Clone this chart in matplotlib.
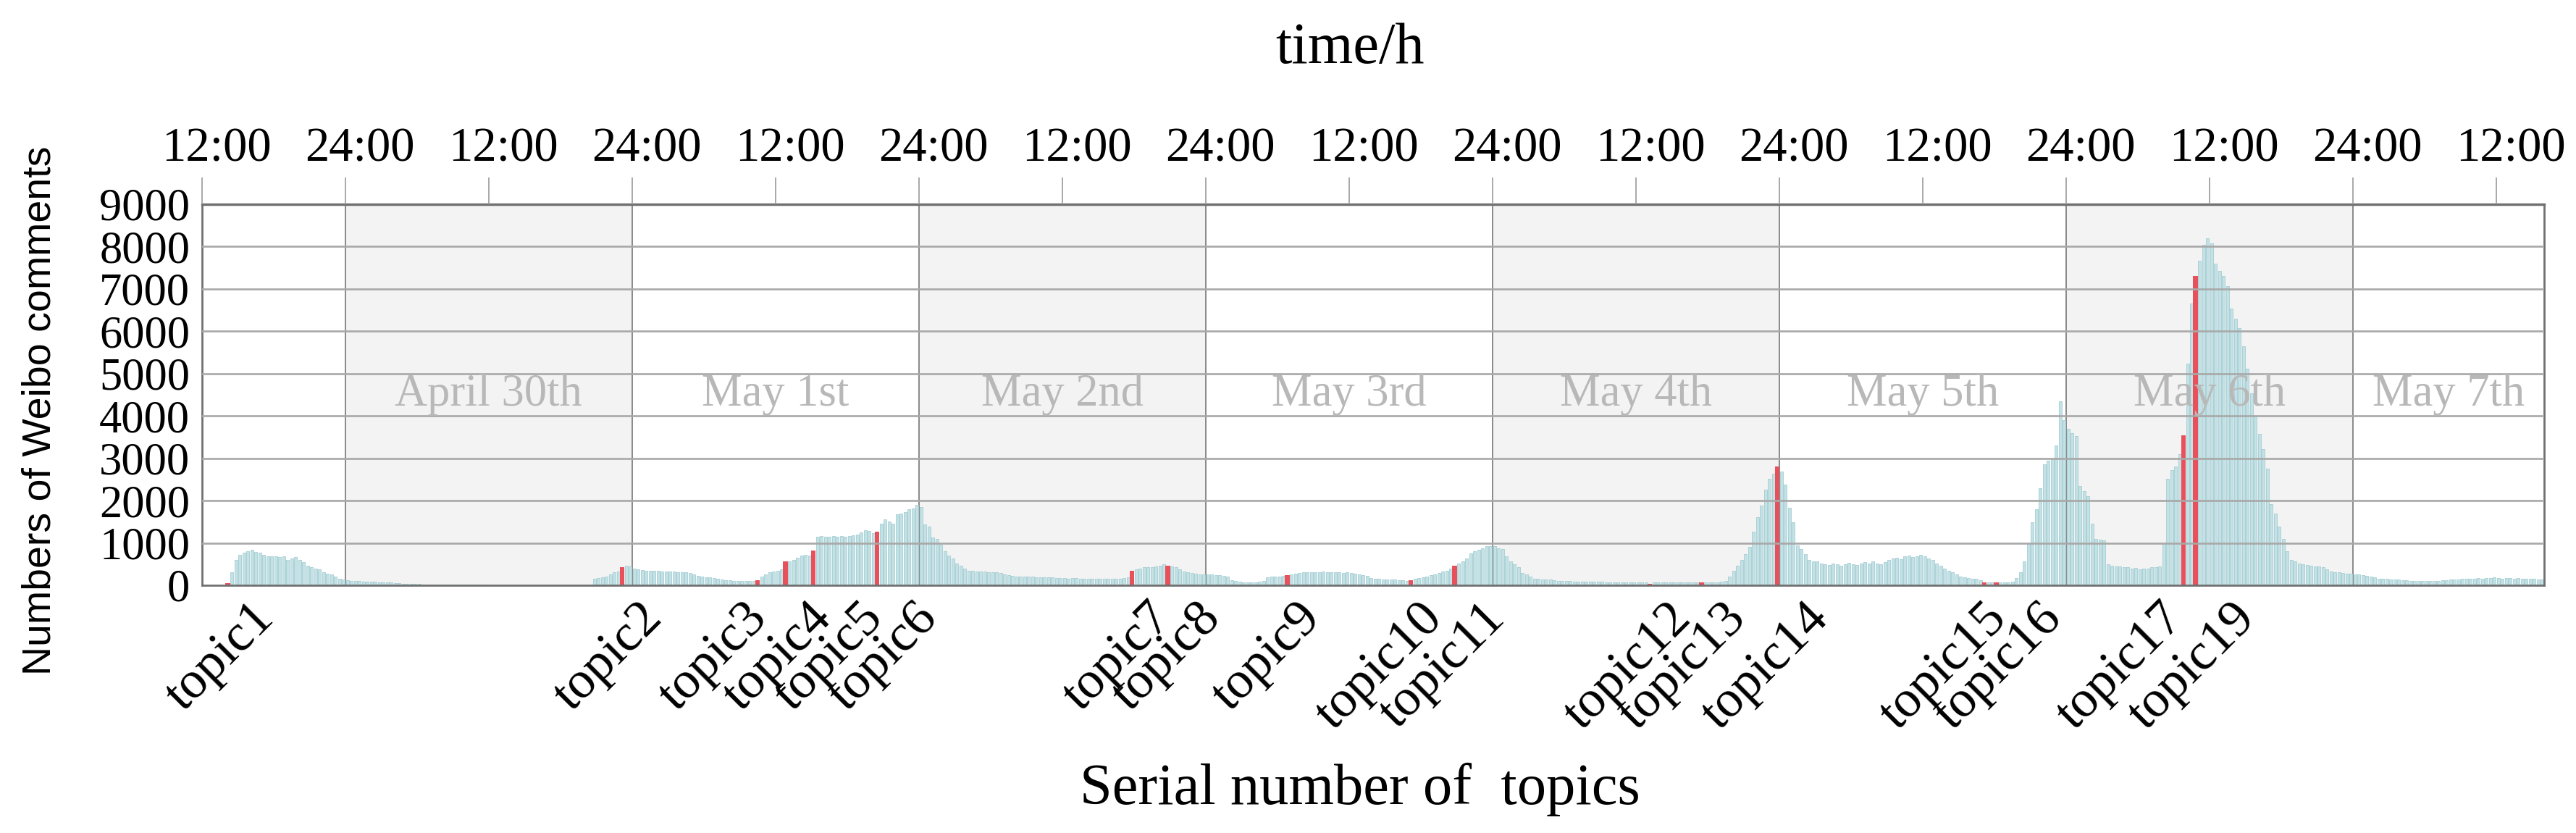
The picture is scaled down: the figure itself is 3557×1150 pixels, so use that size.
import numpy as np
import matplotlib
matplotlib.use('Agg')
import matplotlib.pyplot as plt
from matplotlib.transforms import ScaledTranslation

plt.rcParams['font.family'] = ['Liberation Serif', 'DejaVu Serif']

# comments per 20-minute bin, starting April 29th 12:00
apr29_pm = [0, 0, 0, 0, 0, 0, 50, 310, 600, 710, 770, 800, 840, 780, 770, 710, 690, 690,
            690, 660, 690, 600, 630, 660, 600, 540, 460, 430, 400, 370, 310, 280, 260, 200, 160, 130]
apr30 = [120, 110, 100, 100, 90, 90, 80, 80, 70, 70, 60, 60, 50, 50, 40,
         30, 30, 30, 30, 25, 25, 25, 25, 20, 20, 20, 20, 20, 15, 15,
         10, 10, 10, 10, 10, 5, 5, 5, 5,
         0, 0, 0, 0, 0, 0, 0, 0, 0, 0, 0, 0, 0, 0, 0, 0, 0, 0, 0, 0, 0, 0, 0,
         150, 170, 180, 200, 260, 300, 320, 430, 460, 440]
may1 = [400, 380, 360, 350, 350, 340, 340, 330, 330, 320, 320, 310, 300, 300, 290,
        250, 220, 200, 190, 180, 170,
        150, 130, 120, 120, 110, 110, 100, 100, 100, 110, 120,
        200, 260, 300, 330, 340, 380, 560, 560, 600, 650, 700, 720, 700, 820,
        1150, 1160, 1140, 1150, 1170, 1150, 1160, 1140, 1170, 1180, 1200,
        1250, 1300, 1280, 1240, 1260,
        1450, 1560, 1500, 1450, 1680, 1700, 1720, 1790, 1820, 1900]
may2 = [1850, 1440, 1390, 1130, 1100, 950, 810, 700, 640, 520, 470, 400, 350, 340, 330,
        330, 320, 310, 300, 300, 290, 260, 240, 220,
        210, 210, 200, 200, 200, 190, 190, 190, 180,
        180, 170, 170, 170, 160, 170, 170, 160, 160, 160, 160, 150,
        150, 150, 150, 150, 160, 160, 170, 180, 350,
        380, 400, 420, 430, 430, 450, 460, 490, 470,
        450, 430, 380, 320, 300, 290, 280, 260, 250]
may3 = [250, 250, 240, 240, 230, 210,
        120, 100, 80, 70, 70, 70, 70, 80, 100,
        180, 200, 200, 210, 220, 235,
        260, 280, 290, 300, 300, 310, 300, 310, 320, 310, 300, 310, 300, 290, 300, 290,
        280, 260, 240, 220,
        170, 150, 150, 140, 140, 130, 130, 120, 120, 110, 120,
        150, 170, 180, 210, 235, 260, 290, 320, 350, 400, 460,
        520, 570, 640, 750, 800, 830, 880, 920, 930]
may4 = [930, 880, 850, 680, 570, 500, 430, 290, 250, 200, 160, 150,
        140, 130, 130, 120, 110, 110, 100, 100, 90, 90, 90, 80, 80, 80, 80, 80,
        70, 70, 70, 70, 70, 60, 60, 60, 60, 60, 60, 40,
        60, 60, 60, 60, 60, 60, 60, 60, 60, 60, 60, 60, 60,
        60, 60, 70, 70, 80, 100, 200, 340, 460, 600, 740, 910, 1260, 1600,
        1890, 2250, 2510, 2630, 2810]
may5 = [2690, 2370, 1830, 1490, 940, 860, 740, 600, 570, 560, 520, 500,
        480, 520, 500, 470, 490, 530, 500, 480, 510, 540, 520, 560, 520, 500, 540,
        600, 630, 650, 620, 680, 700, 660, 690, 710, 680, 640, 600,
        520, 460, 400, 350, 300, 260, 200, 180, 170, 160, 150, 120,
        60, 60, 60, 60, 60, 60, 70, 80, 170, 300, 570, 970, 1490, 1800,
        2290, 2860, 2950, 3000, 3310, 4340, 3900]
may6 = [3700, 3600, 3520, 2340, 2220, 2100, 1450, 1090, 1080, 1065, 500, 470,
        450, 440, 430, 420, 400, 410, 380, 390, 400, 420, 430, 450,
        1000, 2510, 2720, 2800, 3100, 3550, 5240, 6660, 7310,
        7660, 8050, 8200, 8080, 7600, 7430, 7310, 7070, 6540, 6300, 6070, 5650,
        5120, 4530, 3990, 3580, 3220, 2750, 1920, 1690, 1390, 1090, 800, 600,
        560, 520, 500, 480, 460, 450, 440, 420, 380, 320, 300, 300, 290, 280, 270]
may7 = [260, 250, 240, 220, 200, 180,
        160, 150, 150, 140, 130, 130, 120, 120, 110, 110, 100, 100,
        100, 100, 110, 110, 120, 120, 130, 130, 140,
        150, 150, 160, 160, 170, 160, 170, 170, 180, 170, 160, 170, 170, 160, 170,
        160, 150, 160, 150, 140, 130]

comments = np.array(apr29_pm + apr30 + may1 + may2 + may3 + may4 + may5 + may6 + may7)

# bins where a topic appears (drawn red)
topic_bins = [6, 105, 139, 146, 153, 169, 233, 242, 272, 303, 314, 363, 376, 395, 447, 450, 497, 500]
topic_names = ['topic1', 'topic2', 'topic3', 'topic4', 'topic5', 'topic6', 'topic7', 'topic8',
               'topic9', 'topic10', 'topic11', 'topic12', 'topic13', 'topic14', 'topic15',
               'topic16', 'topic17', 'topic19']
topic_label_hours = [4.0, 36.5, 45.3, 50.7, 55.0, 59.5, 79.1, 83.2, 91.6, 101.8, 107.0,
                     122.6, 127.2, 134.1, 149.0, 153.6, 163.8, 169.8]

day_names = ['April 30th', 'May 1st', 'May 2nd', 'May 3rd', 'May 4th', 'May 5th', 'May 6th', 'May 7th']
day_centers = [24, 48, 72, 96, 120, 144, 168, 188]
shaded_days = [(12, 36), (60, 84), (108, 132), (156, 180)]

bins_per_hour = 3
hours = (np.arange(len(comments)) + 0.5) / bins_per_hour

fig = plt.figure(figsize=(35.57, 11.5), dpi=100)
ax = fig.add_axes([0.0784, 0.2974, 0.9092, 0.4574])

for a, b in shaded_days:
    ax.axvspan(a, b, color='#f3f3f3', zorder=0, lw=0)
for d in range(12, 196, 24):
    ax.axvline(d, color='#808080', lw=1.3, zorder=1)

ax.bar(hours, comments, width=0.7 / bins_per_hour, color='#c4e2e5',
       edgecolor='#a3cdd2', linewidth=0.6, zorder=2)
# red topic bars on top
ax.bar(hours[topic_bins], comments[topic_bins], width=1.15 / bins_per_hour,
       color='#e8505b', linewidth=0, zorder=2.2)

for yv in range(1000, 9000, 1000):
    ax.axhline(yv, color='#a8a8a8', lw=1.9, zorder=3)

for name, c in zip(day_names, day_centers):
    ax.text(c, 4250, name, ha='center', va='baseline', fontsize=45, color='#b8b8b8', zorder=4)

ax.set_xlim(0, 196)
ax.set_ylim(0, 9000)
ax.set_yticks(range(0, 9001, 1000))
ax.tick_params(axis='y', length=0, labelsize=45, pad=12)
ax.set_xticks(topic_label_hours)
ax.set_xticklabels(topic_names, rotation=45, ha='right', rotation_mode='anchor', fontsize=52)
ax.tick_params(axis='x', length=0, pad=9)
for s in ax.spines.values():
    s.set_color('#707070')
    s.set_linewidth(2)
ax.spines['top'].set_linewidth(2.5)

# top time axis
ax2 = ax.twiny()
ax2.set_xlim(0, 196)
top_ticks = list(range(0, 193, 12))
ax2.set_xticks(top_ticks)
ax2.set_xticklabels(['12:00' if i % 2 == 0 else '24:00' for i in range(len(top_ticks))], fontsize=48)
ax2.tick_params(axis='x', length=27, width=1.2, color='#9a9a9a', pad=6)
shift = ScaledTranslation(0.2, 0, fig.dpi_scale_trans)
for lab in ax2.get_xticklabels():
    lab.set_transform(lab.get_transform() + shift)
for s in ax2.spines.values():
    s.set_visible(False)

fig.text(0.524, 0.941, 'time/h', ha='center', va='center', fontsize=58)
fig.text(0.528, 0.052, 'Serial number of  topics', ha='center', va='center', fontsize=58)
fig.text(0.0155, 0.507, 'Numbers of Weibo comments', ha='center', va='center', rotation=90,
         fontsize=40, family=['Liberation Sans', 'DejaVu Sans'])

fig.savefig('out.png', dpi=100)
